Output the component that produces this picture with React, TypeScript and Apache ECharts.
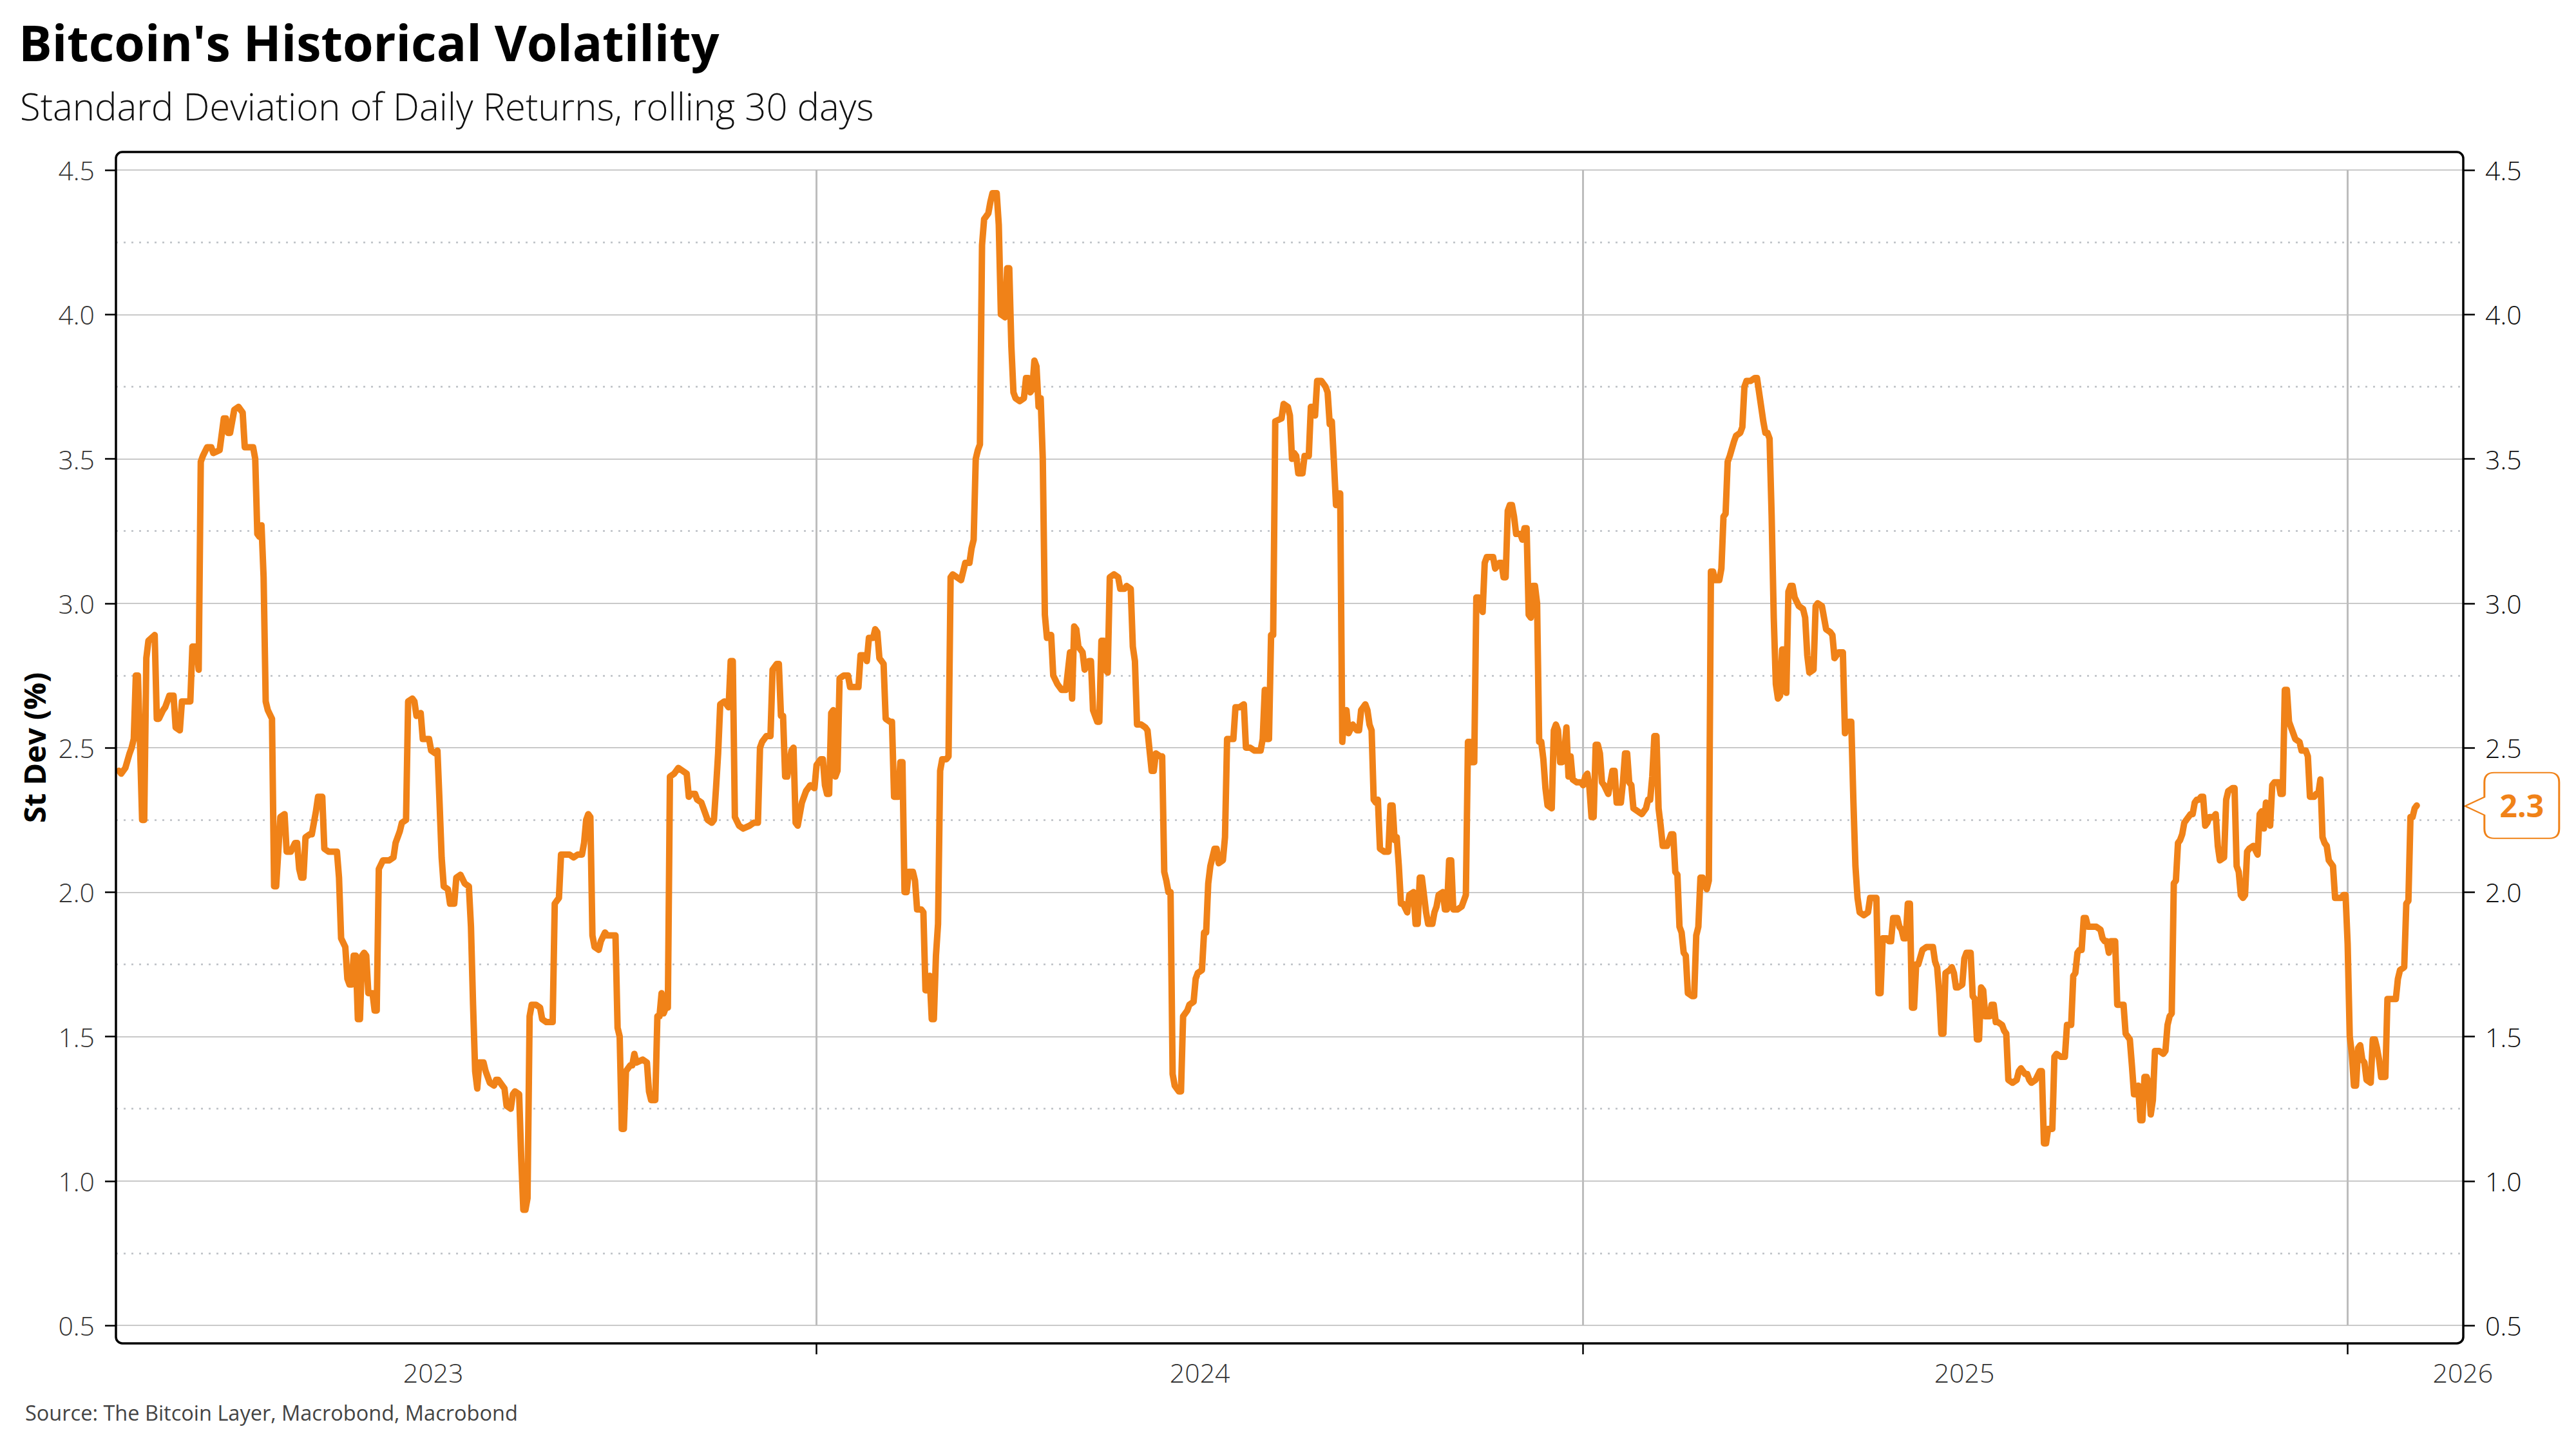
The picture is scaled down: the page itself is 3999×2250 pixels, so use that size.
import React, { useEffect, useRef } from 'react';
import * as echarts from 'echarts';

const ORANGE = '#F08218';
const FONT = '"Open Sans", "Noto Sans", sans-serif';

const START_UTC = Date.UTC(2023, 1, 1); // day 0 = 2023-02-01
const DAY_MS = 86400000;

// days since 2023-02-01
const days: number[] = [
  1, 2, 4, 6, 7, 8, 9, 10, 11, 12, 13, 14, 15, 18, 19, 20, 22, 23, 25, 27,
  28, 30, 31, 33, 35, 36, 38, 39, 40, 41, 43, 45, 46, 49, 51, 52, 53, 54, 56, 58,
  60, 61, 62, 65, 66, 67, 68, 69, 70, 71, 72, 74, 75, 76, 78, 80, 81, 83, 85, 86,
  87, 88, 89, 90, 92, 93, 95, 96, 98, 99, 101, 103, 105, 106, 107, 109, 110, 111, 112, 113,
  114, 115, 116, 117, 118, 119, 120, 122, 123, 124, 125, 127, 130, 132, 133, 135, 136, 138, 139, 141,
  142, 143, 145, 146, 149, 150, 152, 153, 154, 155, 156, 158, 159, 161, 162, 164, 166, 168, 169, 170,
  171, 172, 173, 175, 176, 178, 180, 181, 182, 185, 186, 188, 189, 190, 192, 193, 194, 195, 196, 197,
  198, 200, 202, 203, 205, 208, 209, 211, 212, 214, 216, 218, 220, 222, 223, 224, 225, 226, 227, 228,
  230, 231, 233, 234, 236, 238, 239, 240, 241, 242, 243, 245, 246, 247, 248, 251, 253, 254, 255, 257,
  258, 259, 260, 261, 262, 263, 264, 266, 268, 270, 272, 273, 274, 276, 277, 279, 280, 282, 284, 285,
  286, 287, 288, 290, 291, 292, 293, 294, 295, 297, 299, 302, 304, 306, 307, 308, 310, 312, 313, 315,
  316, 317, 318, 319, 320, 322, 323, 324, 325, 327, 329, 331, 333, 334, 336, 337, 338, 339, 340, 341,
  342, 343, 344, 345, 347, 349, 350, 353, 354, 355, 357, 358, 359, 361, 362, 363, 364, 366, 367, 369,
  370, 371, 373, 374, 375, 376, 377, 378, 380, 381, 382, 384, 385, 386, 387, 388, 389, 390, 391, 392,
  393, 394, 396, 397, 398, 399, 401, 403, 404, 405, 407, 408, 409, 410, 411, 412, 413, 414, 416, 417,
  418, 420, 421, 422, 424, 425, 426, 427, 428, 429, 431, 433, 434, 435, 436, 437, 438, 439, 440, 441,
  442, 443, 444, 445, 446, 447, 449, 451, 453, 455, 456, 457, 458, 459, 461, 462, 464, 465, 466, 468,
  469, 470, 471, 472, 473, 474, 476, 478, 479, 481, 482, 484, 485, 486, 487, 489, 491, 492, 493, 494,
  495, 496, 498, 499, 500, 501, 502, 503, 504, 505, 507, 508, 509, 511, 512, 514, 515, 516, 518, 519,
  520, 521, 522, 524, 525, 526, 528, 529, 530, 531, 533, 534, 536, 538, 539, 541, 543, 546, 547, 548,
  549, 550, 551, 552, 553, 556, 557, 559, 560, 561, 562, 563, 564, 566, 567, 569, 570, 571, 572, 573,
  575, 577, 578, 579, 580, 581, 582, 583, 584, 585, 586, 587, 588, 590, 592, 593, 594, 596, 597, 598,
  599, 600, 601, 602, 603, 605, 607, 608, 609, 610, 611, 612, 613, 614, 616, 617, 619, 620, 621, 622,
  623, 624, 625, 626, 628, 629, 630, 631, 633, 634, 635, 636, 637, 638, 640, 642, 644, 645, 646, 647,
  648, 649, 650, 652, 653, 654, 656, 657, 658, 660, 661, 662, 663, 664, 665, 666, 667, 668, 670, 671,
  672, 673, 674, 675, 676, 677, 678, 679, 680, 681, 682, 683, 685, 686, 687, 688, 689, 690, 691, 692,
  693, 694, 695, 697, 699, 700, 701, 702, 703, 704, 705, 706, 707, 708, 709, 710, 712, 714, 715, 716,
  718, 719, 720, 721, 722, 723, 724, 726, 728, 730, 731, 732, 733, 734, 735, 736, 737, 738, 740, 742,
  743, 744, 745, 746, 747, 748, 749, 750, 752, 753, 754, 755, 756, 757, 759, 760, 761, 762, 763, 765,
  766, 767, 768, 769, 770, 772, 773, 775, 776, 777, 778, 780, 782, 783, 785, 786, 787, 788, 789, 790,
  791, 792, 793, 794, 795, 796, 797, 798, 799, 800, 801, 803, 805, 806, 807, 808, 810, 811, 812, 814,
  816, 818, 819, 820, 822, 824, 825, 827, 828, 829, 830, 831, 832, 834, 836, 837, 839, 840, 841, 842,
  843, 845, 846, 847, 848, 850, 851, 852, 853, 854, 855, 856, 857, 858, 859, 860, 862, 864, 866, 867,
  868, 869, 870, 871, 872, 873, 875, 876, 877, 878, 879, 881, 882, 883, 885, 886, 887, 888, 889, 890,
  891, 892, 894, 895, 896, 897, 898, 900, 901, 902, 903, 905, 907, 908, 909, 911, 912, 913, 914, 916,
  918, 919, 920, 921, 922, 924, 925, 926, 928, 930, 931, 933, 934, 935, 936, 937, 938, 939, 940, 941,
  944, 945, 947, 948, 949, 950, 951, 952, 953, 954, 955, 957, 958, 959, 960, 961, 962, 963, 964, 965,
  966, 967, 968, 969, 970, 971, 972, 973, 975, 977, 978, 979, 980, 981, 982, 983, 984, 985, 986, 987,
  989, 990, 991, 992, 993, 994, 995, 996, 997, 998, 999, 1001, 1002, 1003, 1004, 1006, 1007, 1008, 1010, 1011,
  1012, 1013, 1014, 1015, 1016, 1017, 1018, 1020, 1022, 1023, 1024, 1025, 1026, 1027, 1028, 1029, 1030, 1032, 1033, 1034,
  1035, 1036, 1037, 1038, 1040, 1042, 1043, 1045, 1046, 1047, 1049, 1050, 1051, 1052, 1053, 1054, 1055, 1056, 1058, 1059,
  1060, 1062, 1063, 1064, 1065, 1066, 1067, 1068, 1069, 1070, 1071, 1072, 1073, 1074, 1076, 1077, 1078, 1079, 1080, 1081,
  1083, 1084, 1086, 1087, 1088, 1089, 1090, 1092, 1093, 1094, 1095, 1096, 1097, 1098,
];

// rolling 30-day standard deviation of daily returns, %
const vol: number[] = [
  2.42, 2.41, 2.43, 2.48, 2.50, 2.53, 2.75, 2.75, 2.51, 2.25, 2.25, 2.81, 2.87, 2.89, 2.60, 2.60, 2.63, 2.64, 2.68, 2.68,
  2.57, 2.56, 2.66, 2.66, 2.66, 2.85, 2.85, 2.77, 3.49, 3.51, 3.54, 3.54, 3.52, 3.53, 3.64, 3.64, 3.59, 3.59, 3.67, 3.68,
  3.66, 3.54, 3.54, 3.54, 3.50, 3.24, 3.23, 3.27, 3.09, 2.66, 2.63, 2.60, 2.02, 2.02, 2.26, 2.27, 2.14, 2.14, 2.17, 2.17,
  2.08, 2.05, 2.05, 2.19, 2.20, 2.20, 2.28, 2.33, 2.33, 2.15, 2.14, 2.14, 2.14, 2.05, 1.84, 1.81, 1.70, 1.68, 1.68, 1.78,
  1.78, 1.56, 1.56, 1.78, 1.79, 1.78, 1.65, 1.65, 1.59, 1.59, 2.08, 2.11, 2.11, 2.12, 2.17, 2.21, 2.24, 2.25, 2.66, 2.67,
  2.66, 2.61, 2.62, 2.53, 2.53, 2.49, 2.48, 2.49, 2.31, 2.12, 2.02, 2.01, 1.96, 1.96, 2.05, 2.06, 2.03, 2.02, 1.88, 1.61,
  1.38, 1.32, 1.41, 1.41, 1.38, 1.34, 1.33, 1.35, 1.35, 1.32, 1.26, 1.25, 1.30, 1.31, 1.30, 1.08, 0.90, 0.90, 0.94, 1.57,
  1.61, 1.61, 1.60, 1.56, 1.55, 1.55, 1.96, 1.98, 2.13, 2.13, 2.13, 2.12, 2.13, 2.13, 2.17, 2.25, 2.27, 2.26, 1.85, 1.81,
  1.80, 1.83, 1.86, 1.85, 1.85, 1.85, 1.53, 1.50, 1.18, 1.18, 1.38, 1.40, 1.40, 1.44, 1.41, 1.42, 1.41, 1.31, 1.28, 1.28,
  1.57, 1.57, 1.65, 1.58, 1.60, 1.60, 2.40, 2.41, 2.43, 2.42, 2.41, 2.33, 2.34, 2.34, 2.32, 2.31, 2.29, 2.25, 2.24, 2.25,
  2.36, 2.48, 2.65, 2.66, 2.65, 2.64, 2.80, 2.80, 2.26, 2.23, 2.22, 2.23, 2.24, 2.24, 2.50, 2.52, 2.54, 2.54, 2.77, 2.79,
  2.79, 2.61, 2.61, 2.40, 2.40, 2.49, 2.50, 2.24, 2.23, 2.31, 2.35, 2.37, 2.36, 2.44, 2.46, 2.46, 2.37, 2.34, 2.34, 2.62,
  2.63, 2.40, 2.42, 2.74, 2.75, 2.75, 2.71, 2.71, 2.71, 2.82, 2.82, 2.80, 2.88, 2.88, 2.91, 2.90, 2.81, 2.79, 2.60, 2.59,
  2.59, 2.33, 2.33, 2.45, 2.45, 2.00, 2.00, 2.07, 2.07, 2.04, 1.94, 1.94, 1.93, 1.66, 1.66, 1.71, 1.56, 1.56, 1.78, 1.89,
  2.42, 2.46, 2.46, 2.47, 3.09, 3.10, 3.09, 3.08, 3.11, 3.14, 3.14, 3.19, 3.22, 3.50, 3.53, 3.55, 4.24, 4.33, 4.35, 4.39,
  4.42, 4.42, 4.31, 4.00, 3.99, 4.16, 4.16, 3.89, 3.73, 3.71, 3.70, 3.71, 3.78, 3.78, 3.73, 3.74, 3.84, 3.82, 3.68, 3.71,
  3.50, 2.96, 2.88, 2.89, 2.89, 2.75, 2.72, 2.70, 2.70, 2.83, 2.67, 2.92, 2.91, 2.85, 2.83, 2.77, 2.80, 2.80, 2.63, 2.59,
  2.59, 2.87, 2.87, 2.77, 2.76, 3.09, 3.10, 3.09, 3.05, 3.05, 3.06, 3.05, 2.85, 2.80, 2.58, 2.58, 2.57, 2.56, 2.49, 2.42,
  2.42, 2.48, 2.47, 2.47, 2.07, 2.04, 2.00, 2.00, 1.37, 1.33, 1.31, 1.31, 1.57, 1.59, 1.61, 1.62, 1.70, 1.72, 1.73, 1.86,
  1.86, 2.03, 2.09, 2.15, 2.15, 2.10, 2.11, 2.19, 2.53, 2.53, 2.53, 2.64, 2.64, 2.65, 2.50, 2.50, 2.49, 2.49, 2.53, 2.70,
  2.53, 2.53, 2.89, 2.89, 3.63, 3.64, 3.69, 3.68, 3.65, 3.50, 3.52, 3.51, 3.45, 3.45, 3.51, 3.51, 3.68, 3.68, 3.65, 3.77,
  3.77, 3.75, 3.73, 3.62, 3.63, 3.49, 3.34, 3.38, 3.38, 2.52, 2.62, 2.63, 2.55, 2.58, 2.56, 2.56, 2.63, 2.65, 2.63, 2.58,
  2.56, 2.32, 2.31, 2.32, 2.15, 2.14, 2.14, 2.30, 2.30, 2.18, 2.19, 2.09, 1.96, 1.96, 1.93, 1.99, 2.00, 1.89, 1.89, 2.05,
  2.05, 1.99, 1.93, 1.89, 1.89, 1.93, 1.95, 1.99, 2.00, 1.94, 1.94, 2.11, 2.11, 1.94, 1.94, 1.95, 1.99, 2.52, 2.52, 2.45,
  2.45, 3.02, 3.02, 2.97, 3.14, 3.16, 3.16, 3.16, 3.12, 3.14, 3.14, 3.09, 3.09, 3.32, 3.34, 3.34, 3.30, 3.24, 3.24, 3.22,
  3.26, 3.26, 2.96, 2.95, 3.06, 3.06, 3.00, 2.52, 2.52, 2.46, 2.36, 2.30, 2.29, 2.56, 2.58, 2.56, 2.45, 2.45, 2.48, 2.57,
  2.40, 2.47, 2.39, 2.38, 2.38, 2.37, 2.40, 2.41, 2.36, 2.26, 2.26, 2.51, 2.51, 2.48, 2.38, 2.37, 2.34, 2.42, 2.42, 2.31,
  2.31, 2.38, 2.48, 2.48, 2.38, 2.37, 2.29, 2.28, 2.27, 2.29, 2.32, 2.32, 2.40, 2.54, 2.54, 2.29, 2.23, 2.16, 2.16, 2.20,
  2.20, 2.07, 2.06, 1.88, 1.86, 1.79, 1.78, 1.65, 1.64, 1.64, 1.85, 1.88, 2.05, 2.05, 2.01, 2.04, 3.11, 3.11, 3.08, 3.08,
  3.12, 3.30, 3.31, 3.49, 3.51, 3.56, 3.58, 3.59, 3.61, 3.75, 3.77, 3.77, 3.78, 3.78, 3.68, 3.63, 3.59, 3.59, 3.57, 3.30,
  2.95, 2.72, 2.67, 2.68, 2.84, 2.84, 2.69, 3.04, 3.06, 3.06, 3.02, 2.99, 2.98, 2.95, 2.82, 2.76, 2.77, 2.99, 3.00, 2.99,
  2.91, 2.90, 2.89, 2.81, 2.83, 2.83, 2.55, 2.59, 2.59, 2.32, 2.09, 1.98, 1.93, 1.92, 1.93, 1.98, 1.98, 1.98, 1.65, 1.65,
  1.84, 1.84, 1.83, 1.83, 1.91, 1.91, 1.88, 1.87, 1.84, 1.84, 1.96, 1.96, 1.60, 1.60, 1.75, 1.75, 1.80, 1.81, 1.81, 1.81,
  1.76, 1.74, 1.65, 1.51, 1.51, 1.72, 1.73, 1.74, 1.72, 1.67, 1.67, 1.68, 1.77, 1.79, 1.79, 1.64, 1.63, 1.49, 1.49, 1.67,
  1.66, 1.57, 1.57, 1.61, 1.61, 1.55, 1.55, 1.54, 1.52, 1.51, 1.35, 1.34, 1.35, 1.38, 1.39, 1.37, 1.37, 1.35, 1.34, 1.35,
  1.38, 1.38, 1.13, 1.13, 1.18, 1.18, 1.43, 1.44, 1.43, 1.43, 1.54, 1.54, 1.71, 1.72, 1.79, 1.80, 1.80, 1.91, 1.91, 1.88,
  1.88, 1.88, 1.87, 1.84, 1.83, 1.83, 1.79, 1.83, 1.83, 1.83, 1.61, 1.61, 1.61, 1.51, 1.50, 1.49, 1.40, 1.30, 1.30, 1.33,
  1.21, 1.21, 1.36, 1.36, 1.34, 1.23, 1.28, 1.45, 1.45, 1.44, 1.45, 1.54, 1.57, 1.58, 2.03, 2.04, 2.17, 2.18, 2.20, 2.24,
  2.26, 2.27, 2.27, 2.31, 2.32, 2.32, 2.33, 2.33, 2.23, 2.24, 2.26, 2.26, 2.27, 2.16, 2.11, 2.12, 2.32, 2.35, 2.36, 2.36,
  2.09, 2.07, 1.99, 1.98, 1.99, 2.14, 2.15, 2.16, 2.13, 2.27, 2.28, 2.22, 2.31, 2.30, 2.23, 2.37, 2.38, 2.38, 2.34, 2.34,
  2.70, 2.70, 2.59, 2.57, 2.53, 2.52, 2.49, 2.49, 2.47, 2.33, 2.33, 2.34, 2.34, 2.39, 2.19, 2.17, 2.16, 2.11, 2.09, 1.98,
  1.98, 1.98, 1.99, 1.99, 1.82, 1.50, 1.44, 1.33, 1.33, 1.46, 1.47, 1.42, 1.41, 1.35, 1.34, 1.49, 1.49, 1.46, 1.42, 1.36,
  1.36, 1.63, 1.63, 1.63, 1.63, 1.70, 1.73, 1.74, 1.96, 1.97, 2.26, 2.26, 2.29, 2.30,
];

// x axis: year boundaries (ticks, grid lines) and year labels
const yearStarts: string[] = ['2024-01-01', '2025-01-01', '2026-01-01'];
const yearLabelDates: string[] = ['2023-07-02', '2024-07-02', '2025-07-02', '2026-02-25'];
const yTicks: number[] = [0.5, 1.0, 1.5, 2.0, 2.5, 3.0, 3.5, 4.0, 4.5];

const TITLE = "Bitcoin's Historical Volatility";
const SUBTITLE = 'Standard Deviation of Daily Returns, rolling 30 days';
const SOURCE = 'Source: The Bitcoin Layer, Macrobond, Macrobond';
const Y_NAME = 'St Dev (%)';

const X_MIN = START_UTC - 0.5 * DAY_MS;
const X_MAX = START_UTC + 1120.2 * DAY_MS;

const toTime = (s: string) => {
  const [y, m, d] = s.split('-').map(Number);
  return Date.UTC(y, m - 1, d);
};

export default function App() {
  const chartRef = useRef<HTMLDivElement>(null);

  useEffect(() => {
    if (!chartRef.current) return;
    const chart = echarts.init(chartRef.current, null, { renderer: 'svg' });

    const seriesData = days.map((d, i) => [START_UTC + d * DAY_MS, vol[i]]);
    const last = seriesData[seriesData.length - 1];

    const option: any = {
      animation: false,
      backgroundColor: '#ffffff',
      textStyle: { fontFamily: FONT },
      title: [
        {
          text: TITLE,
          left: 24,
          top: 22,
          textStyle: { fontFamily: FONT, fontSize: 77, fontWeight: 'bold', color: '#000', lineHeight: 77 },
        },
        {
          text: SUBTITLE,
          left: 26,
          top: 130,
          textStyle: { fontFamily: FONT, fontSize: 58, fontWeight: 300, color: '#111', lineHeight: 58 },
        },
        {
          text: SOURCE,
          left: 34,
          top: 2172,
          textStyle: { fontFamily: FONT, fontSize: 32.5, fontWeight: 'normal', color: '#444', lineHeight: 33 },
        },
      ],
      grid: { left: 180, right: 175, top: 264, bottom: 192, containLabel: false },
      xAxis: {
        type: 'value',
        min: X_MIN,
        max: X_MAX,
        offset: 28,
        axisLine: { show: false },
        axisTick: {
          show: true,
          inside: false,
          length: 17,
          customValues: yearStarts.map(toTime),
          lineStyle: { color: '#000', width: 2.5 },
        },
        axisLabel: {
          customValues: yearLabelDates.map((s) => Math.min(toTime(s), X_MAX)),
          formatter: (v: number) => String(new Date(v).getUTCFullYear()),
          fontFamily: FONT,
          fontSize: 41,
          fontWeight: 300,
          color: '#333',
          margin: 24,
        },
        splitLine: { show: true, lineStyle: { color: '#bdbdbd', width: 3 } },
      },
      yAxis: [
        {
          type: 'value',
          position: 'left',
          min: yTicks[0],
          max: yTicks[yTicks.length - 1],
          interval: 0.5,
          name: Y_NAME,
          nameLocation: 'middle',
          nameRotate: 90,
          nameGap: 104,
          nameTextStyle: { fontFamily: FONT, fontSize: 47, fontWeight: 'bold', color: '#000' },
          axisLine: { show: false },
          axisTick: { show: true, length: 17, lineStyle: { color: '#000', width: 2.5 } },
          axisLabel: {
            formatter: (v: number) => v.toFixed(1),
            fontFamily: FONT,
            fontSize: 41,
            fontWeight: 300,
            color: '#333',
            margin: 33,
          },
          splitLine: { show: true, lineStyle: { color: '#c9c9c9', width: 2 } },
          minorTick: { show: false, splitNumber: 2 },
          minorSplitLine: { show: true, lineStyle: { color: '#bcc0c5', width: 2.5, type: [3, 9] } },
        },
        {
          type: 'value',
          position: 'right',
          min: yTicks[0],
          max: yTicks[yTicks.length - 1],
          interval: 0.5,
          axisLine: { show: false },
          axisTick: { show: true, length: 18, lineStyle: { color: '#000', width: 2.5 } },
          axisLabel: {
            formatter: (v: number) => v.toFixed(1),
            fontFamily: FONT,
            fontSize: 41,
            fontWeight: 300,
            color: '#111',
            margin: 34,
          },
          splitLine: { show: false },
        },
      ],
      series: [
        {
          type: 'line',
          data: seriesData,
          yAxisIndex: 0,
          showSymbol: false,
          symbol: 'none',
          clip: false,
          lineStyle: { color: ORANGE, width: 10, join: 'round', cap: 'round' },
          z: 5,
          markPoint: {
            symbol: 'path://M0,52L30,38L30,15Q30,0,45,0L131,0Q146,0,146,15L146,87Q146,102,131,102L45,102Q30,102,30,87L30,66Z',
            symbolSize: [146, 102],
            symbolKeepAspect: false,
            symbolOffset: [148, 0],
            itemStyle: { color: '#ffffff', borderColor: ORANGE, borderWidth: 2.5 },
            label: {
              show: true,
              position: 'inside',
              offset: [15, 0],
              formatter: (p: any) => Number(p.value).toFixed(1),
              fontFamily: FONT,
              fontSize: 48,
              fontWeight: 'bold',
              color: ORANGE,
            },
            data: [{ coord: [last[0], last[1]], value: last[1] }],
          },
        },
      ],
      graphic: [
        {
          type: 'rect',
          shape: { x: 180, y: 236, width: 3644, height: 1850, r: 10 },
          style: { fill: 'none', stroke: '#000', lineWidth: 3.5 },
          silent: true,
          z: 10,
        },
      ],
    };

    chart.setOption(option);
    return () => {
      chart.dispose();
    };
  }, []);

  return (
    <div
      ref={chartRef}
      style={{ position: 'fixed', left: 0, top: 0, width: 3999, height: 2250, background: '#fff' }}
    />
  );
}
